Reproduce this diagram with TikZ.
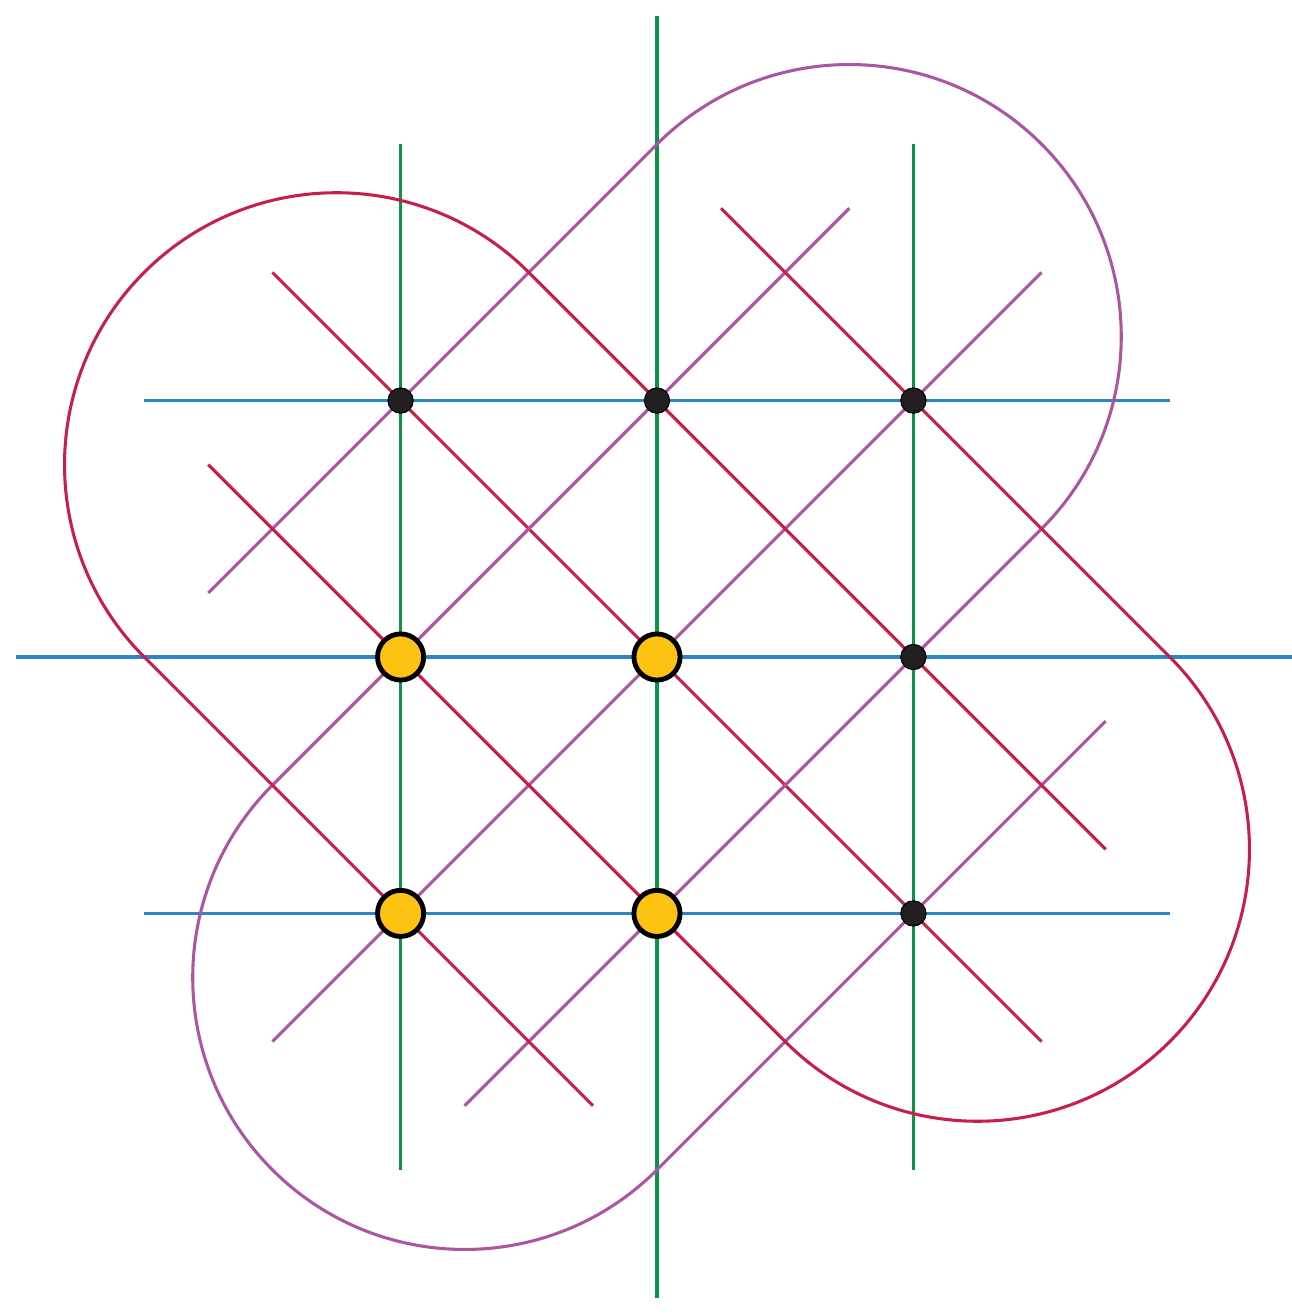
\documentclass[tikz,border=0pt]{standalone}
\usepackage{tikz}
\usetikzlibrary{calc}
\usepackage{xcolor}

\definecolor{gridblue}{HTML}{2A86C8}
\definecolor{gridgreen}{HTML}{0A9447}
\definecolor{looppurple}{HTML}{AB55A3}
\definecolor{loopred}{HTML}{C61F4C}
\definecolor{dotyellow}{HTML}{FCC313}
\definecolor{dotblack}{HTML}{231F20}

\tikzset{
    bdot/.style={circle, fill=dotblack, draw=black, line width=0.3pt, inner sep=0pt, minimum size=7pt},
    ydot/.style={circle, fill=dotyellow, draw=black, line width=1.35pt, inner sep=0pt, minimum size=12.8pt}
}

\begin{document}
\begin{tikzpicture}[x=2.5cm, y=2.5cm, line width=0.85pt]
    \useasboundingbox (-2.5624,-2.5663) rectangle (2.4756,2.5624);

    % Horizontal and vertical grid lines
    \foreach \y/\l in {1/2, 0/2.5, -1/2} {
        \draw[gridblue] (-\l,\y) -- (\l,\y);
    }
    \foreach \x/\l in {-1/2, 0/2.5, 1/2} {
        \draw[gridgreen] (\x,-\l) -- (\x,\l);
    }

    % Diagonals through the centre
    \draw[loopred] (-1.5,1.5) -- (1.5,-1.5);
    \draw[looppurple] (-1.5,-1.5) -- (1.5,1.5);

    % Purple loops
    \pgfmathsetmacro{\rr}{0.75*sqrt(2)}
    \draw[looppurple] (-1.75,0.25) -- (0,2)
        arc[start angle=135, end angle=-45, radius=\rr] -- (-0.75,-1.75);
    \draw[looppurple] (1.75,-0.25) -- (0,-2)
        arc[start angle=-45, end angle=-225, radius=\rr] -- (0.75,1.75);

    % Red loops
    \draw[loopred] (-0.25,-1.75) -- (-2,0)
        arc[start angle=225, end angle=45, radius=\rr] -- (1.75,-0.75);
    \draw[loopred] (-1.75,0.75) -- (0.5,-1.5)
        arc[start angle=225, end angle=405, radius=\rr] -- (0.25,1.75);

    % Mark the lattice points
    \foreach \x/\y in {-1/1, 0/1, 1/1, 1/0, 1/-1} {
        \node[bdot] (b\x\y) at (\x,\y) {};
    }
    \foreach \x/\y in {-1/0, 0/0, -1/-1, 0/-1} {
        \node[ydot] (y\x\y) at (\x,\y) {};
    }
\end{tikzpicture}
\end{document}
